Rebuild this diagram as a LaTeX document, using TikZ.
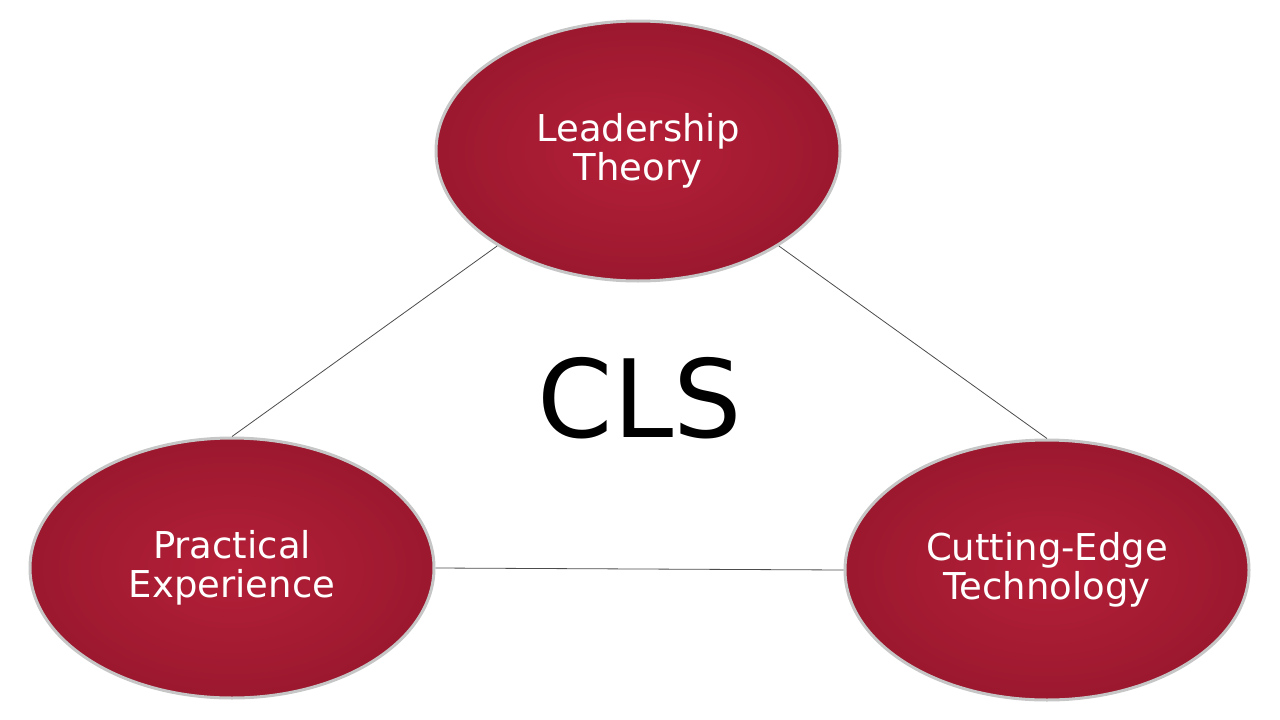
\documentclass[tikz,border=0pt]{standalone}
\usepackage{fontspec}
\setmainfont{DejaVu Sans}
\usetikzlibrary{shapes.geometric}
\definecolor{crim}{RGB}{180,32,56}
\definecolor{crimd}{RGB}{155,24,46}
\tikzset{
  ball/.style={ellipse, minimum width=404pt, minimum height=260pt, inner color=crim, outer color=crimd,
    draw=gray!45, line width=3pt, text=white, align=center, font=\fontsize{37}{39}\selectfont},
  link/.style={draw=black!70, line width=0.8pt}
}
\begin{document}
\begin{tikzpicture}[x=1pt,y=-1pt]
\useasboundingbox (0,0) rectangle (1280,720);
\node[ball] (top) at (638,151) {Leadership\\Theory};
\node[ball] (left) at (232,568) {Practical\\Experience};
\node[ball] (right) at (1047,570) {Cutting-Edge\\Technology};
\node (cls) at (640,398) {\fontsize{108}{110}\selectfont CLS};
\draw[link] (top.214) -- (left.north);
\draw[link] (top.326) -- (right.north);
\draw[link] (left.east) -- (right.west);
\end{tikzpicture}
\end{document}
